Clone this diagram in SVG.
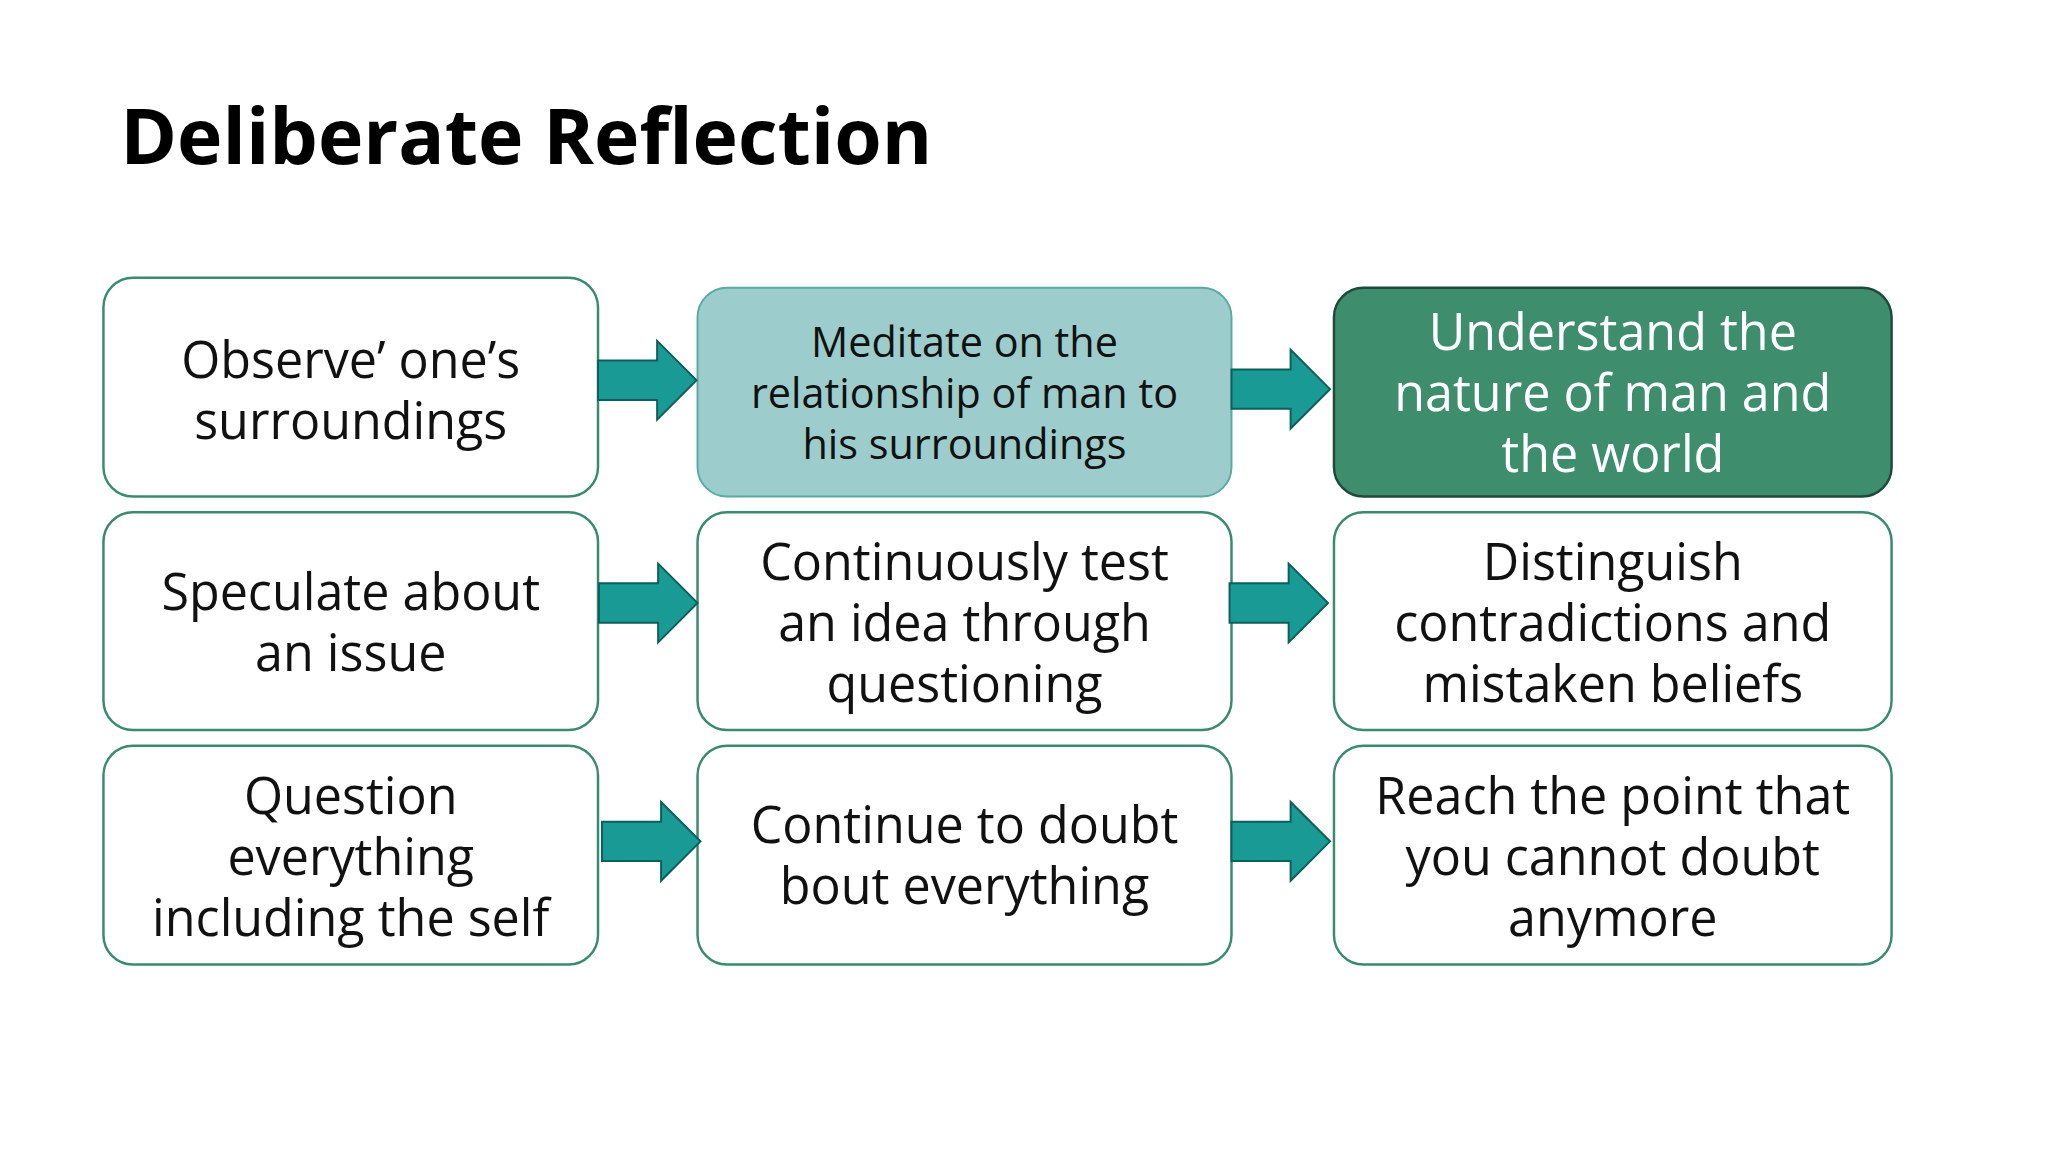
<svg xmlns="http://www.w3.org/2000/svg" width="2048" height="1152" viewBox="0 0 2048 1152">
<defs>
<style>
.b{fill:#fff;stroke:#3a8a70;stroke-width:2.5}
.t{font-family:"Open Sans","Noto Sans",sans-serif;font-size:51px;fill:#111;text-anchor:middle}
.a{fill:#1a9a94;stroke:#0d5f5c;stroke-width:2}
</style>
<path id="arr" d="M0,-20 H60 V-40 L100,0 L60,40 V20 H0 Z"/>
</defs>
<rect width="2048" height="1152" fill="#fff"/>
<g transform="scale(0.9852)">
<text x="122" y="166" font-family="'Open Sans','Noto Sans',sans-serif" font-weight="bold" font-size="78" fill="#000">Deliberate Reflection</text>
<g id="n1"><rect class="b" x="105" y="282" width="502" height="222" rx="30"/><text class="t"><tspan x="356" y="384">Observe’ one’s</tspan><tspan x="356" y="446">surroundings</tspan></text></g>
<g id="n2"><rect x="708" y="292" width="542" height="212" rx="30" fill="#9ccccb" stroke="#5aaaa2" stroke-width="2"/><text class="t" style="font-size:42px"><tspan x="979" y="362">Meditate on the</tspan><tspan x="979" y="414">relationship of man to</tspan><tspan x="979" y="466">his surroundings</tspan></text></g>
<g id="n3"><rect x="1354" y="292" width="566" height="212" rx="30" fill="#3e8e6e" stroke="#1e4a3a" stroke-width="2.5"/><text class="t" style="fill:#fff"><tspan x="1637" y="355">Understand the</tspan><tspan x="1637" y="417">nature of man and</tspan><tspan x="1637" y="479">the world</tspan></text></g>
<g id="n4"><rect class="b" x="105" y="520" width="502" height="221" rx="30"/><text class="t"><tspan x="356" y="619">Speculate about</tspan><tspan x="356" y="681">an issue</tspan></text></g>
<g id="n5"><rect class="b" x="708" y="520" width="542" height="221" rx="30"/><text class="t"><tspan x="979" y="589">Continuously test</tspan><tspan x="979" y="651">an idea through</tspan><tspan x="979" y="713">questioning</tspan></text></g>
<g id="n6"><rect class="b" x="1354" y="520" width="566" height="221" rx="30"/><text class="t"><tspan x="1637" y="589">Distinguish</tspan><tspan x="1637" y="651">contradictions and</tspan><tspan x="1637" y="713">mistaken beliefs</tspan></text></g>
<g id="n7"><rect class="b" x="105" y="757" width="502" height="222" rx="30"/><text class="t"><tspan x="356" y="826">Question</tspan><tspan x="356" y="888">everything</tspan><tspan x="356" y="950">including the self</tspan></text></g>
<g id="n8"><rect class="b" x="708" y="757" width="542" height="222" rx="30"/><text class="t"><tspan x="979" y="856">Continue to doubt</tspan><tspan x="979" y="918">bout everything</tspan></text></g>
<g id="n9"><rect class="b" x="1354" y="757" width="566" height="222" rx="30"/><text class="t"><tspan x="1637" y="826">Reach the point that</tspan><tspan x="1637" y="888">you cannot doubt</tspan><tspan x="1637" y="950">anymore</tspan></text></g>
<g id="connectors">
<use href="#arr" class="a" transform="translate(607,386)"/>
<use href="#arr" class="a" transform="translate(1250,395)"/>
<use href="#arr" class="a" transform="translate(608,612)"/>
<use href="#arr" class="a" transform="translate(1248,612)"/>
<use href="#arr" class="a" transform="translate(611,854)"/>
<use href="#arr" class="a" transform="translate(1250,854)"/>
</g>
</g>
</svg>
